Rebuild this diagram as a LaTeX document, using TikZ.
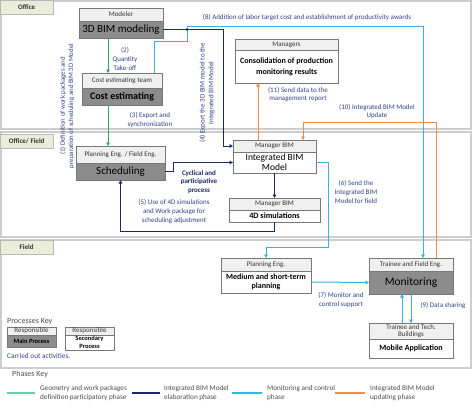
\documentclass[tikz,border=0pt]{standalone}
\usepackage{fontspec}
\setmainfont{Carlito}
\usetikzlibrary{arrows.meta,calc}
\definecolor{cgreen}{RGB}{40,170,105}
\definecolor{cnavy}{RGB}{28,42,100}
\definecolor{clblue}{RGB}{55,178,228}
\definecolor{corange}{RGB}{238,140,75}
\definecolor{ctext}{RGB}{50,65,135}
\definecolor{chdr}{RGB}{240,240,240}
\definecolor{cmain}{RGB}{140,140,140}
\definecolor{cborder}{RGB}{120,120,120}
\definecolor{cband}{RGB}{205,205,205}
\definecolor{ctag}{RGB}{233,237,218}
\definecolor{clgreen}{RGB}{110,205,175}
\tikzset{
  hdr/.style={draw=cborder, fill=chdr, inner sep=0pt, outer sep=0pt, line width=0.6pt,
    font=\fontsize{7}{7.5}\selectfont, text=black!80, align=center},
  mainp/.style={draw=cborder, fill=cmain, inner sep=0pt, outer sep=0pt, line width=0.6pt, align=center, text=black},
  secp/.style={draw=cborder, fill=white, inner sep=0pt, outer sep=0pt, line width=0.6pt, align=center, text=black},
  lbl/.style={text=ctext, font=\fontsize{7}{8.6}\selectfont, align=center, inner sep=0pt},
  keytxt/.style={text=black!70, font=\fontsize{7.2}{8.6}\selectfont, align=left, inner sep=0pt, anchor=west},
  band/.style={draw=cband, line width=1.2pt},
  tag/.style={draw=gray!55, fill=ctag, minimum width=53pt, minimum height=14pt, inner sep=0pt,
    anchor=north west, font=\fontsize{7}{8}\selectfont\bfseries, text=black!80},
  conn/.style={line width=1pt, -{Triangle[length=3.5pt,width=3.6pt]}},
  cgr/.style={conn, draw=cgreen},
  cnv/.style={conn, draw=cnavy},
  clb/.style={conn, draw=clblue},
  cor/.style={conn, draw=corange},
}
% #1 name, #2 x, #3 y, #4 width, #5 header h, #6 body h, #7 body style, #8 header, #9 body
\newcommand{\pbox}[9]{%
  \node[hdr, anchor=north west, minimum width=#4, minimum height=#5] (#1h) at (#2,#3) {#8};
  \node[#7, anchor=north, minimum width=#4, minimum height=#6] (#1) at (#1h.south) {#9};
}
\begin{document}
\begin{tikzpicture}[x=1pt,y=-1pt]
\useasboundingbox (0,0) rectangle (474,405);
% bands
\draw[band] (1,1) rectangle (471,129);
\draw[band] (1,132) rectangle (471,237);
\draw[band] (1,240) rectangle (471,368);
\node[tag] (tOffice) at (0,0) {Office};
\node[tag] (tOF) at (0,134) {Office/ Field};
\node[tag] (tField) at (0,240) {Field};

% process boxes
\pbox{mod}{79}{8}{84}{13}{17}{mainp, font=\fontsize{11}{12}\selectfont}{Modeler}{3D BIM modeling}
\pbox{cost}{82}{73}{80}{15}{17}{mainp, font=\fontsize{10}{12}\selectfont\bfseries}{Cost estimating team}{Cost estimating}
\pbox{sched}{76}{146}{89}{17}{17}{mainp, font=\fontsize{11}{12}\selectfont}{Planning Eng. / Field Eng.}{Scheduling}
\pbox{int}{233}{140}{83}{12}{21}{secp, font=\fontsize{9.5}{10}\selectfont}{Manager BIM}{Integrated BIM\\Model}
\pbox{sim}{229}{198}{91}{12}{12}{secp, font=\fontsize{8.2}{9}\selectfont\bfseries}{Manager BIM}{4D simulations}
\pbox{man}{235}{39}{103}{11}{33}{secp, font=\fontsize{8}{11}\selectfont\bfseries}{Managers}{Consolidation of production\\monitoring results}
\pbox{plan}{221}{258}{90}{13}{22}{secp, font=\fontsize{8}{9.5}\selectfont\bfseries}{Planning Eng.}{Medium and short-term\\planning}
\pbox{mon}{369}{258}{84}{13}{23}{mainp, font=\fontsize{11.5}{12}\selectfont}{Trainee and Field Eng.}{Monitoring}
\pbox{mob}{369}{323}{84}{16}{19}{secp, font=\fontsize{8}{9}\selectfont\bfseries}{Trainee and Tech.\\Buildings}{Mobile Application}

% helper coordinates
\coordinate (gx) at (108,0);
\coordinate (b8a) at (154,41);
\coordinate (b8b) at (187,26);
\coordinate (b8c) at (423,26);
\coordinate (o10a) at (436,122);
\coordinate (o10b) at (303,122);
\coordinate (o11) at (258,0);

% green
\draw[cgr] (mod.south -| gx) -- (costh.north -| gx);
\draw[cgr] (cost.south -| gx) -- (schedh.north -| gx);
% navy
\draw[cnv] (mod.east) -| ($(inth.west)+(-10,0)$) -- (inth.west);
\draw[cnv] (sched.east) -- ++(8,0) |- (int.west);
\draw[cnv] (int.south) -- (simh.north);
\draw[cnv] (sim.south) -- ++(0,9) -| (sched.south);
% light blue
\draw[clb] (costh.north -| b8a) -- (b8a) -| (b8b) -- (b8c) -- (monh.north -| b8c);
\fill[cnavy] (187,29.5) circle (1.3pt);
\draw[clb] (int.east) -- ++(12,0) |- ($(planh.north)+(0,-11)$) -- (planh.north);
\draw[clb] (plan.east) -- (mon.west);
\draw[clb] (mon.south) -- (mobh.north);
\draw[clb] ([xshift=-9pt]mobh.north) -- ([xshift=-9pt]mon.south);
% orange
\draw[cor] (monh.north -| o10a) -- (o10a) -- (o10b) -- (inth.north -| o10b);
\draw[cor] (inth.north -| o11) -- (man.south -| o11);

% labels
\node[lbl, rotate=90, font=\fontsize{6.8}{8.2}\selectfont] (l1) at (67,106) {(1) Definition of work packages and\\preparation of scheduling and BIM 3D Model};
\node[lbl] (l2) at (125,59) {(2)\\Quantity\\Take-off};
\node[lbl] (l3) at (150,120) {(3) Export and\\synchronization};
\node[lbl, rotate=90] (l4) at (207,93) {(4) Export the 3D BIM model to the\\Integrated BIM Model};
\node[lbl, font=\fontsize{7}{8.6}\selectfont\bfseries, text=cnavy] (lc) at (199,182) {Cyclical and\\participative\\process};
\node[lbl] (l5) at (174,211.5) {(5) Use of 4D simulations\\and Work package for\\scheduling adjustment};
\node[lbl] (l6) at (356,192) {(6) Send the\\Integrated BIM\\Model for field};
\node[lbl] (l7) at (341,300) {(7) Monitor and\\control support};
\node[lbl] (l8) at (307,18) {(8) Addition of labor target cost and establishment of productivity awards};
\node[lbl] (l9) at (443,306) {(9) Data sharing};
\node[lbl] (l10) at (377,111.5) {(10) Integrated BIM Model\\Update};
\node[lbl] (l11) at (298,94.5) {(11) Send data to the\\management report};

% processes key
\node[keytxt, font=\fontsize{8}{9}\selectfont] (pk) at (7,322) {Processes Key};
\pbox{km}{7}{327}{49}{8}{12}{mainp, font=\fontsize{6.5}{7}\selectfont\bfseries}{Responsible}{Main Process}
\pbox{ks}{65}{327}{49}{8}{15}{secp, font=\fontsize{6.5}{8}\selectfont\bfseries}{Responsible}{Secondary\\Process}
\node[keytxt, text=ctext, font=\fontsize{7.3}{8}\selectfont] (ca) at (7,356) {Carried out activities.};

% phases key
\node[keytxt, font=\fontsize{8}{9}\selectfont] (phk) at (12,374) {Phases Key};
\draw[clgreen, line width=1.3pt] (7,393) -- (35,393);
\node[keytxt] (p1) at (40,393) {Geometry and work packages\\definition participatory phase};
\draw[cnavy, line width=1.3pt] (132,393) -- (160,393);
\node[keytxt] (p2) at (164,393) {Integrated BIM Model\\elaboration phase};
\draw[clblue, line width=1.3pt] (232,393) -- (262,393);
\node[keytxt] (p3) at (267,393) {Monitoring and control\\phase};
\draw[corange, line width=1.3pt] (335,393) -- (365,393);
\node[keytxt] (p4) at (370,393) {Integrated BIM Model\\updating phase};
\end{tikzpicture}
\end{document}
